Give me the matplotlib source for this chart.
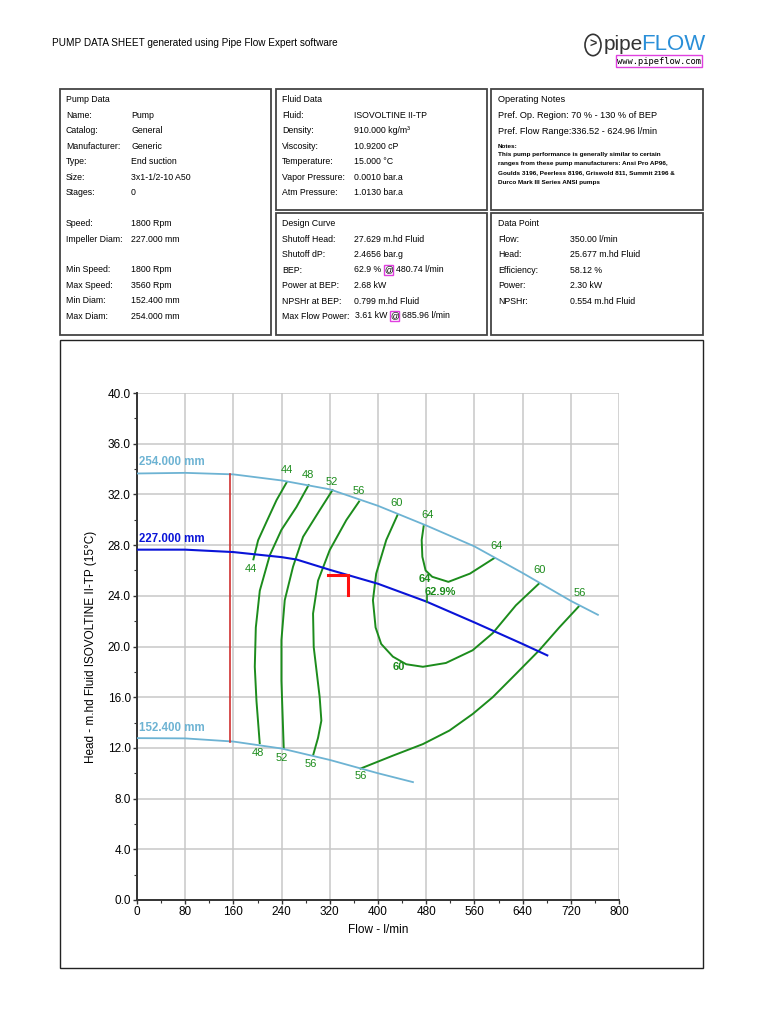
import matplotlib
matplotlib.use('Agg')
import matplotlib.pyplot as plt
from matplotlib.patches import Rectangle, Circle

plt.rcParams['font.family'] = ['Liberation Sans', 'DejaVu Sans']

# ---- data ----
flow_254 = [0, 80, 160, 240, 320, 400, 480, 560, 640, 720, 765]
head_254 = [33.65, 33.7, 33.58, 33.1, 32.4, 31.1, 29.55, 27.9, 25.8, 23.6, 22.5]

flow_227 = [0, 80, 160, 240, 265, 320, 400, 480, 560, 640, 681]
head_227 = [27.64, 27.64, 27.45, 27.05, 26.86, 26.05, 24.95, 23.55, 21.9, 20.2, 19.3]

flow_152 = [0, 80, 160, 240, 320, 400, 458]
head_152 = [12.77, 12.75, 12.5, 11.95, 11.05, 10.0, 9.3]

min_flow = 155
min_flow_head = [12.5, 33.58]

op_flow = 350.0
op_head = 25.677
bep_flow = 480.74

# efficiency iso lines (flow, head)
eff_44 = ([249, 231.6, 215, 201, 192.8], [33.0, 31.55, 29.84, 28.38, 26.8])
eff_48 = ([285.6, 264.6, 239.7, 220.4, 203.8, 197.2, 195.5, 198.3, 203.8],
          [32.8, 31.0, 29.2, 27.2, 24.4, 21.5, 18.4, 15.7, 12.3])
eff_52 = ([325.3, 303.2, 275.6, 259, 245.2, 239.7, 239.7, 243.6],
          [32.4, 30.75, 28.65, 26.3, 23.65, 20.5, 17.3, 11.9])
eff_56a = ([369.5, 347.4, 319.8, 300.5, 292.2, 293.3, 303.2, 306, 300.5, 292.2],
           [31.5, 29.97, 27.6, 25.2, 22.6, 19.96, 16.0, 14.15, 12.8, 11.4])
eff_60 = ([433, 413.7, 397, 391.6, 396, 405.3, 424.7, 446.8, 474.5, 512.7, 557, 590.4, 628.9, 668],
          [30.44, 28.4, 25.75, 23.65, 21.5, 20.2, 19.2, 18.6, 18.4, 18.7, 19.7, 21.05, 23.25, 25.0])
eff_64 = ([476, 472.5, 473.6, 479, 490, 516.8, 552.6, 593.8],
          [29.57, 28.4, 27.08, 26.0, 25.5, 25.1, 25.75, 27.0])
eff_56b = ([734, 700.8, 667.6, 629, 590.4, 557.3, 518.6, 474.5, 424.8, 369.5],
           [23.2, 21.5, 19.7, 17.84, 16.0, 14.68, 13.37, 12.3, 11.39, 10.34])
eff_lines = [eff_44, eff_48, eff_52, eff_56a, eff_60, eff_64, eff_56b]

# labels on the iso lines: text, flow, head
eff_labels = [
    ('44', 248, 33.9), ('48', 284, 33.5), ('52', 324, 33.0), ('56', 368, 32.3),
    ('60', 430, 31.3), ('64', 483, 30.4), ('64', 596, 27.9), ('60', 668, 26.0),
    ('56', 735, 24.2), ('44', 189, 26.15), ('48', 201, 11.6), ('52', 241, 11.2),
    ('56', 289, 10.7), ('56', 372, 9.8),
]
eff_labels_bold = [('64', 478, 25.3), ('62.9%', 504, 24.3), ('60', 435, 18.4)]

x_ticks = [0, 80, 160, 240, 320, 400, 480, 560, 640, 720, 800]
y_ticks = [0, 4, 8, 12, 16, 20, 24, 28, 32, 36, 40]

pump_rows = [('Name:', 'Pump'), ('Catalog:', 'General'), ('Manufacturer:', 'Generic'),
             ('Type:', 'End suction'), ('Size:', '3x1-1/2-10 A50'), ('Stages:', '0'),
             ('', ''), ('Speed:', '1800 Rpm'), ('Impeller Diam:', '227.000 mm'), ('', ''),
             ('Min Speed:', '1800 Rpm'), ('Max Speed:', '3560 Rpm'),
             ('Min Diam:', '152.400 mm'), ('Max Diam:', '254.000 mm')]
fluid_rows = [('Fluid:', 'ISOVOLTINE II-TP'), ('Density:', '910.000 kg/m³'),
              ('Viscosity:', '10.9200 cP'), ('Temperature:', '15.000 °C'),
              ('Vapor Pressure:', '0.0010 bar.a'), ('Atm Pressure:', '1.0130 bar.a')]
design_rows = [('Shutoff Head:', '27.629 m.hd Fluid'), ('Shutoff dP:', '2.4656 bar.g'),
               ('BEP:', None), ('Power at BEP:', '2.68 kW'),
               ('NPSHr at BEP:', '0.799 m.hd Fluid'), ('Max Flow Power:', None)]
point_rows = [('Flow:', '350.00 l/min'), ('Head:', '25.677 m.hd Fluid'),
              ('Efficiency:', '58.12 %'), ('Power:', '2.30 kW'),
              ('NPSHr:', '0.554 m.hd Fluid')]
notes_lines = ['This pump performance is generally similar to certain',
               'ranges from these pump manufacturers: Ansi Pro AP96,',
               'Goulds 3196, Peerless 8196, Griswold 811, Summit 2196 &',
               'Durco Mark III Series ANSI pumps']

W, H = 768, 1024
fig = plt.figure(figsize=(7.68, 10.24), dpi=100)


def fx(x):
    return x / W


def fy(y):
    return 1 - y / H


def box(x0, y0, x1, y1, lw=1.3, ec='#444444'):
    fig.patches.append(Rectangle((fx(x0), fy(y1)), (x1 - x0) / W, (y1 - y0) / H,
                                 transform=fig.transFigure, fill=False, ec=ec, lw=lw))


def txt(x, y, s, size=6.3, **kw):
    fig.text(fx(x), fy(y), s, fontsize=size, va='center', ha='left', **kw)


# header
txt(52, 43, 'PUMP DATA SHEET generated using Pipe Flow Expert software', size=7.2)
fig.patches.append(Circle((fx(593), fy(45)), 8 / W, transform=fig.transFigure,
                          fill=False, ec='#333333', lw=1.2))
txt(589, 45, '>', size=9, color='#333333', fontweight='bold')
txt(604, 45, 'pipe', size=15, color='#333333')
txt(641, 45, 'FLOW', size=16, color='#2a8fd8')
txt(617, 61, 'www.pipeflow.com', size=6.3, family='DejaVu Sans Mono',
    bbox=dict(boxstyle='square,pad=0.15', fc='none', ec='#e040e0', lw=1))

# boxes
box(60, 89, 271, 335)
box(276, 89, 487, 210)
box(276, 213, 487, 335)
box(491, 89, 703, 210)
box(491, 213, 703, 335)
box(60, 340, 703, 968, lw=1.0, ec='#222222')

magenta = dict(boxstyle='square,pad=0.05', fc='none', ec='#e040e0', lw=1)

txt(66, 100, 'Pump Data')
for i, (a, b) in enumerate(pump_rows):
    y = 115.5 + i * 15.45
    txt(66, y, a)
    txt(131, y, b)

txt(282, 100, 'Fluid Data')
for i, (a, b) in enumerate(fluid_rows):
    y = 115.5 + i * 15.45
    txt(282, y, a)
    txt(354, y, b)

txt(282, 224, 'Design Curve')
for i, (a, b) in enumerate(design_rows):
    y = 239.5 + i * 15.4
    txt(282, y, a)
    if b is not None:
        txt(354, y, b)
txt(354, 270, '62.9 %')
txt(384, 270, '@', bbox=magenta)
txt(396, 270, '480.74 l/min')
txt(355, 316, '3.61 kW')
txt(390, 316, '@', bbox=magenta)
txt(402, 316, '685.96 l/min')

txt(498, 100, 'Operating Notes', size=6.6)
txt(498, 115.5, 'Pref. Op. Region: 70 % - 130 % of BEP', size=6.6)
txt(498, 131, 'Pref. Flow Range:336.52 - 624.96 l/min', size=6.6)
txt(498, 146, 'Notes:', size=4.6, fontweight='bold')
for i, s in enumerate(notes_lines):
    txt(498, 154.5 + i * 9.3, s, size=4.6, fontweight='bold')

txt(498, 224, 'Data Point')
for i, (a, b) in enumerate(point_rows):
    y = 239.5 + i * 15.4
    txt(498, y, a)
    txt(570, y, b)

# ---- chart ----
ax = fig.add_axes([fx(137), fy(900), (619 - 137) / W, (900 - 393) / H])
ax.set_xlim(0, 800)
ax.set_ylim(0, 40)
ax.set_xticks(x_ticks)
ax.set_yticks(y_ticks)
ax.set_yticklabels(['%.1f' % v for v in y_ticks])
ax.set_xticks([v + 40 for v in x_ticks[:-1]], minor=True)
ax.set_yticks([v + 2 for v in y_ticks[:-1]], minor=True)
ax.grid(True, which='major', color='#c8c8c8', lw=1.1)
ax.set_axisbelow(True)
for s in ['top', 'right']:
    ax.spines[s].set_visible(False)
for s in ['left', 'bottom']:
    ax.spines[s].set_color('#333333')
    ax.spines[s].set_linewidth(1.4)
ax.tick_params(which='major', length=3, width=1, colors='#333333', labelsize=8.5,
               labelcolor='black', pad=1.5)
ax.tick_params(which='minor', length=2, width=0.8, colors='#333333')
ax.set_xlabel('Flow - l/min', fontsize=8.5, labelpad=4)
ax.set_ylabel('Head - m.hd Fluid ISOVOLTINE II-TP (15°C)', fontsize=8.5, labelpad=8)

light = '#6db3d3'
green = '#1c8c1c'

for fl, hd in eff_lines:
    ax.plot(fl, hd, color=green, lw=1.4, solid_capstyle='butt',
            solid_joinstyle='round', zorder=3)

ax.plot(flow_254, head_254, color=light, lw=1.3, zorder=4)
ax.plot(flow_152, head_152, color=light, lw=1.3, zorder=4)
ax.plot(flow_227, head_227, color='#0a14d8', lw=1.5, zorder=5)

ax.plot([min_flow, min_flow], min_flow_head, color='#d03030', lw=1.2, zorder=4)

# operating point marker
ax.plot([op_flow - 33, op_flow, op_flow], [op_head, op_head, op_head - 1.65],
        color='#ff1010', lw=2.2, solid_joinstyle='miter', zorder=6)
# BEP tick
ax.plot([bep_flow, bep_flow], [23.55, 24.05], color=green, lw=1.2, zorder=6)

for s, x, y in eff_labels:
    ax.text(x, y, s, color=green, fontsize=8, ha='center', va='center', zorder=7)
for s, x, y in eff_labels_bold:
    ax.text(x, y, s, color=green, fontsize=8, ha='center', va='center',
            fontweight='bold', zorder=7)

ax.text(4, 34.55, '254.000 mm', color=light, fontsize=8.3, fontweight='bold',
        ha='left', va='center')
ax.text(4, 28.45, '227.000 mm', color='#0a14d8', fontsize=8.3, fontweight='bold',
        ha='left', va='center')
ax.text(4, 13.55, '152.400 mm', color=light, fontsize=8.3, fontweight='bold',
        ha='left', va='center')

fig.savefig('out.png', dpi=100)
